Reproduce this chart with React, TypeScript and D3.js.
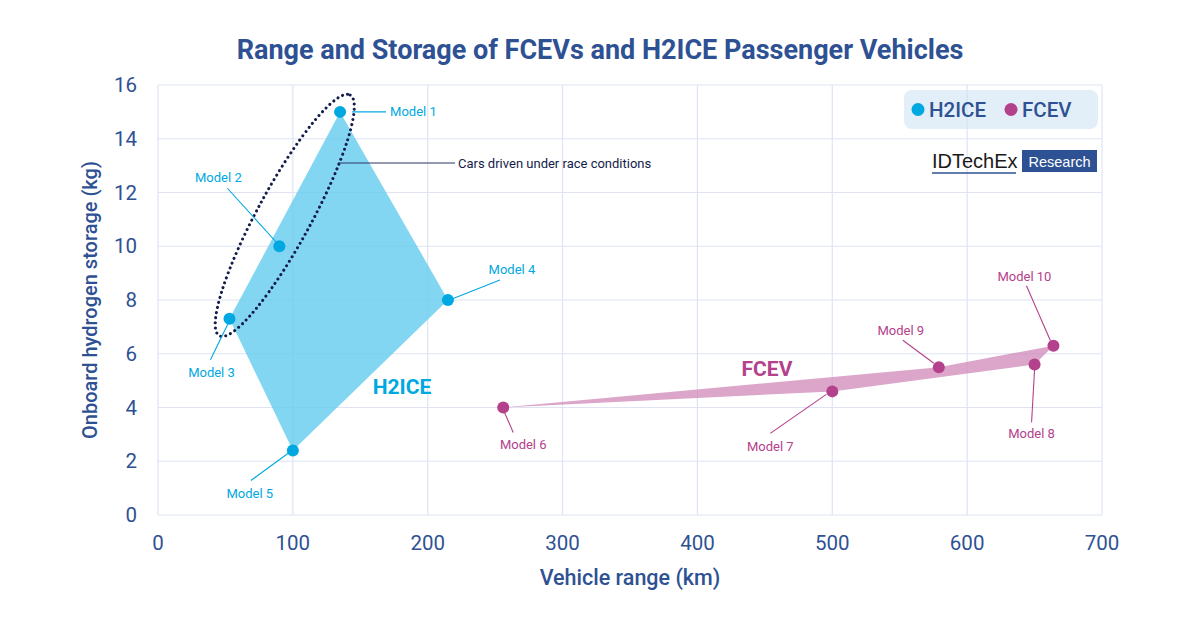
import React from "react";
import * as d3 from "d3";

// H2ICE vehicles: range (km), onboard hydrogen (kg)
const h2iceModels = ["Model 1", "Model 2", "Model 3", "Model 4", "Model 5"];
const h2iceRange = [135, 90, 53, 215, 100];
const h2iceStorage = [15.0, 10.0, 7.3, 8.0, 2.4];
// outline order of the H2ICE envelope (indices into the arrays above)
const h2iceHull = [0, 3, 4, 2];

// FCEV vehicles
const fcevModels = ["Model 6", "Model 7", "Model 8", "Model 9", "Model 10"];
const fcevRange = [256, 500, 650, 579, 664];
const fcevStorage = [4.0, 4.6, 5.6, 5.5, 6.3];
const fcevHull = [0, 3, 4, 2, 1];

const xTicks = [0, 100, 200, 300, 400, 500, 600, 700];
const yTicks = [0, 2, 4, 6, 8, 10, 12, 14, 16];

const title = "Range and Storage of FCEVs and H2ICE Passenger Vehicles";
const xTitle = "Vehicle range (km)";
const yTitle = "Onboard hydrogen storage (kg)";
const raceNote = "Cars driven under race conditions";

const NAVY = "#2e5193";
const BLUE = "#00a8e1";
const BLUE_FILL = "#66cdee";
const PURPLE = "#b4418c";
const PURPLE_FILL = "#cf88b8";
const GRID = "#dfe3f4";
const FONT = "Roboto, 'Noto Sans', sans-serif";
const SANS = "'Liberation Sans', Arial, sans-serif";

// label offsets (px from each dot): [label dx, dy, leader start dx, dy, leader end dx, dy, anchor]
type Lbl = [number, number, number, number, number, number, string];
const h2iceLabels: Lbl[] = [
  [50, 0, 12, 0, 46, 0, "start"],
  [-61, -69, -52, -58, -3, -4, "middle"],
  [-18, 54, -19, 41, -1, 4, "middle"],
  [64, -31, 4, -1, 52, -20, "middle"],
  [-43, 43, -42, 30, -5, 3, "middle"],
];
const fcevLabels: Lbl[] = [
  [20, 37, 10, 25, 0, 2, "middle"],
  [-62, 55, -62, 42, -6, 3, "middle"],
  [-3, 69, -3, 58, 0, 5, "middle"],
  [-38, -37, -36, -27, -5, -4, "middle"],
  [-29, -69, -27, -60, -3, -5, "middle"],
];

const W = 1200;
const H = 627;
const M = { left: 158, right: 98, top: 85, bottom: 112 };

export default function App() {
  const x = d3.scaleLinear().domain([0, 700]).range([M.left, W - M.right]);
  const y = d3.scaleLinear().domain([0, 16]).range([H - M.bottom, M.top]);

  const line = d3.line<number>();
  const h2icePath =
    line(h2iceHull.map((i) => [x(h2iceRange[i]), y(h2iceStorage[i])] as any)) + "Z";
  const fcevPath =
    line(fcevHull.map((i) => [x(fcevRange[i]), y(fcevStorage[i])] as any)) + "Z";

  // race-condition ellipse around Models 1-3
  const ex = x(94);
  const ey = y(11.15);

  const renderLabels = (
    names: string[],
    xs: number[],
    ys: number[],
    lbls: Lbl[],
    color: string
  ) =>
    names.map((n, i) => {
      const px = x(xs[i]);
      const py = y(ys[i]);
      const [lx, ly, sx, sy, tx, ty, anchor] = lbls[i];
      return (
        <g key={n}>
          <line
            x1={px + sx}
            y1={py + sy}
            x2={px + tx}
            y2={py + ty}
            stroke={color}
            strokeWidth={1.1}
          />
          <text
            x={px + lx}
            y={py + ly}
            fill={color}
            fontSize={13}
            textAnchor={anchor as any}
            dominantBaseline="central"
            fontFamily={FONT}
          >
            {n}
          </text>
        </g>
      );
    });

  return (
    <svg width={W} height={H} style={{ display: "block", position: "absolute", left: 0, top: 0 }}>
      <rect width={W} height={H} fill="#fff" />
      <text
        x={600}
        y={50}
        textAnchor="middle"
        dominantBaseline="central"
        fontSize={27}
        fontWeight={700}
        fill={NAVY}
        fontFamily={FONT}
      >
        {title}
      </text>

      {/* grid */}
      {xTicks.map((t) => (
        <line key={"gx" + t} x1={x(t)} x2={x(t)} y1={y(16)} y2={y(0)} stroke={GRID} strokeWidth={1.2} />
      ))}
      {yTicks.map((t) => (
        <line key={"gy" + t} x1={x(0)} x2={x(700)} y1={y(t)} y2={y(t)} stroke={GRID} strokeWidth={1.2} />
      ))}

      {/* tick labels */}
      {xTicks.map((t) => (
        <text
          key={"tx" + t}
          x={x(t)}
          y={543}
          textAnchor="middle"
          dominantBaseline="central"
          fontSize={20.5}
          fill={NAVY}
          fontFamily={FONT}
        >
          {t}
        </text>
      ))}
      {yTicks.map((t) => (
        <text
          key={"ty" + t}
          x={137}
          y={y(t)}
          textAnchor="end"
          dominantBaseline="central"
          fontSize={20.5}
          fill={NAVY}
          fontFamily={FONT}
        >
          {t}
        </text>
      ))}
      <text
        x={x(350)}
        y={577}
        textAnchor="middle"
        dominantBaseline="central"
        fontSize={21.5}
        fontWeight={500}
        fill={NAVY}
        fontFamily={FONT}
      >
        {xTitle}
      </text>
      <text
        transform={`translate(90,300) rotate(-90)`}
        textAnchor="middle"
        dominantBaseline="central"
        fontSize={20}
        fontWeight={500}
        fill={NAVY}
        fontFamily={FONT}
      >
        {yTitle}
      </text>

      {/* envelopes */}
      <path d={h2icePath} fill={BLUE_FILL} fillOpacity={0.82} />
      <path d={fcevPath} fill={PURPLE_FILL} fillOpacity={0.75} />

      <text
        x={402}
        y={387}
        textAnchor="middle"
        dominantBaseline="central"
        fontSize={21}
        fontWeight={700}
        fill={BLUE}
        fontFamily={FONT}
      >
        H2ICE
      </text>
      <text
        x={767}
        y={369}
        textAnchor="middle"
        dominantBaseline="central"
        fontSize={21}
        fontWeight={700}
        fill={PURPLE}
        fontFamily={FONT}
      >
        FCEV
      </text>

      {/* race-condition annotation */}
      <ellipse
        cx={ex}
        cy={ey}
        rx={137}
        ry={27}
        transform={`rotate(-61.5,${ex},${ey})`}
        fill="none"
        stroke="#141c4a"
        strokeWidth={3}
        strokeDasharray="0 5.2"
        strokeLinecap="round"
      />
      <line x1={338} x2={455} y1={163} y2={163} stroke="#2a3566" strokeWidth={1.1} />
      <text x={458} y={163} dominantBaseline="central" fontSize={13} fill="#141c4a" fontFamily={FONT}>
        {raceNote}
      </text>

      {renderLabels(h2iceModels, h2iceRange, h2iceStorage, h2iceLabels, BLUE)}
      {renderLabels(fcevModels, fcevRange, fcevStorage, fcevLabels, PURPLE)}

      {/* points */}
      {h2iceModels.map((n, i) => (
        <circle key={n} cx={x(h2iceRange[i])} cy={y(h2iceStorage[i])} r={6} fill={BLUE} />
      ))}
      {fcevModels.map((n, i) => (
        <circle key={n} cx={x(fcevRange[i])} cy={y(fcevStorage[i])} r={6} fill={PURPLE} />
      ))}

      {/* legend */}
      <rect x={904} y={90} width={194} height={39} rx={8} fill="#cfe2f4" fillOpacity={0.6} />
      <circle cx={918} cy={109.5} r={6.5} fill={BLUE} />
      <text x={929} y={110} dominantBaseline="central" fontSize={20.5} fontWeight={500} fill={NAVY} fontFamily={FONT}>
        H2ICE
      </text>
      <circle cx={1011} cy={109.5} r={6.5} fill={PURPLE} />
      <text x={1022} y={110} dominantBaseline="central" fontSize={20.5} fontWeight={500} fill={NAVY} fontFamily={FONT}>
        FCEV
      </text>

      {/* brand */}
      <text x={932} y={161} dominantBaseline="central" fontSize={20} fill="#1a1a1a" fontFamily={SANS}>
        IDTechEx
      </text>
      <line x1={932} x2={1016} y1={173} y2={173} stroke={NAVY} strokeWidth={1.6} />
      <rect x={1022} y={150} width={75} height={22} fill={NAVY} />
      <text
        x={1059.5}
        y={161.5}
        textAnchor="middle"
        dominantBaseline="central"
        fontSize={14.5}
        fill="#fff"
        fontFamily={SANS}
      >
        Research
      </text>
    </svg>
  );
}
